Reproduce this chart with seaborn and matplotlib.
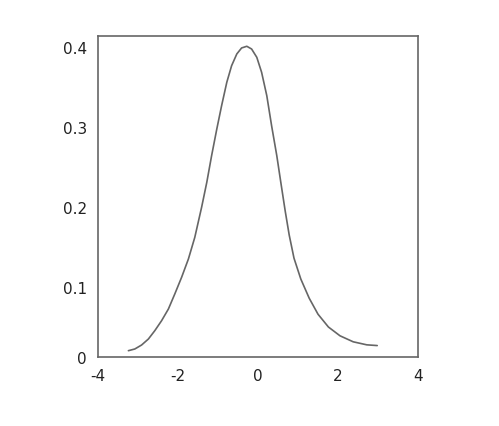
import numpy as np
import pandas as pd
import seaborn as sns
import matplotlib
matplotlib.use("Agg")
import matplotlib.pyplot as plt

# Points
x_vals = [-3.24, -3.08, -2.91, -2.74, -2.58, -2.41, -2.24, -2.08, -1.91, -1.74,
          -1.58, -1.41, -1.28, -1.16, -1.03, -0.91, -0.78, -0.66, -0.53, -0.41,
          -0.28, -0.16, -0.03, 0.09, 0.22, 0.34, 0.47, 0.57, 0.68, 0.78,
          0.90, 1.07, 1.28, 1.50, 1.76, 2.05, 2.38, 2.72, 2.98]
y_vals = [0.0204, 0.0225, 0.0275, 0.0350, 0.0454, 0.0579, 0.0725, 0.0913, 0.1121, 0.1350,
          0.1621, 0.1996, 0.2309, 0.2641, 0.2975, 0.3266, 0.3559, 0.3766, 0.3913, 0.3988,
          0.4009, 0.3975, 0.3871, 0.3684, 0.3391, 0.3016, 0.2641, 0.2309, 0.1950, 0.1650,
          0.1360, 0.1100, 0.0860, 0.0660, 0.0500, 0.0390, 0.0315, 0.0277, 0.0268]

x_ticks = [-4, -2, 0, 2, 4]
x_labels = ['-4', '-2', '0', '2', '4']
y_ticks = [0.0125, 0.1, 0.2, 0.3, 0.4]
y_labels = ['0', '0.1', '0.2', '0.3', '0.4']

df = pd.DataFrame({'x': x_vals, 'y': y_vals})

sns.set_style("white")
plt.rcParams['font.family'] = ['DejaVu Sans']

fig = plt.figure(figsize=(4.99, 4.27), dpi=100)
ax = fig.add_axes([98 / 499, 69 / 427, 320 / 499, 321 / 427])

sns.lineplot(data=df, x='x', y='y', ax=ax, color='#666666', linewidth=1.2, sort=False)

ax.set_xlim(-4, 4)
ax.set_ylim(0.0125, 0.41375)
ax.set_xticks(x_ticks)
ax.set_xticklabels(x_labels)
ax.set_yticks(y_ticks)
ax.set_yticklabels(y_labels)
ax.set_xlabel('')
ax.set_ylabel('')
ax.tick_params(length=0, labelsize=11, labelcolor='#222222')
ax.tick_params(axis='x', pad=8)
ax.tick_params(axis='y', pad=8)
for s in ax.spines.values():
    s.set_color('#666666')
    s.set_linewidth(1.2)

fig.savefig('out.png', dpi=100)
